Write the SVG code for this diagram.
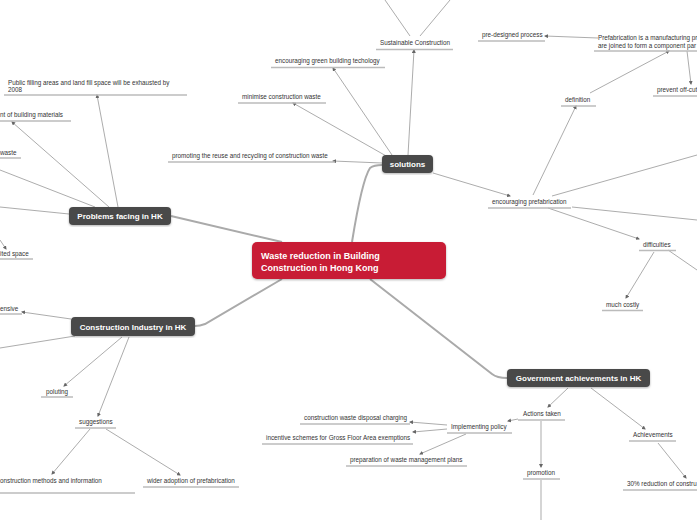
<svg xmlns="http://www.w3.org/2000/svg" width="697" height="520" viewBox="0 0 697 520">
<style>
text{font-family:"Liberation Sans",Arial,sans-serif}
.t{font-size:6.3px;fill:#333}
.u{stroke:#bbb;stroke-width:1.5}
.c{stroke:#888;stroke-width:0.7;fill:none}
.m{stroke:#aaa;stroke-width:2;fill:none}
.d{fill:#4a4a4a}
.dt{font-size:8px;font-weight:bold;fill:#fff}
</style>
<defs>
<marker id="a" markerWidth="4" markerHeight="4" refX="3" refY="2" orient="auto" markerUnits="userSpaceOnUse"><path d="M0,0L4,2L0,4z" fill="#666"/></marker>
<filter id="s"><feDropShadow dx="0" dy="1" stdDeviation="1" flood-opacity="0.3"/></filter>
</defs>
<rect width="697" height="520" fill="#fff"/>
<g id="connectors">
<path class="m" d="M352,242 Q362,180 370,168 Q374,165 382,165"/>
<path class="m" d="M282,242 L171,216"/>
<path class="m" d="M282,279 L205,324 Q200,326 195,326"/>
<path class="m" d="M370,279 L492,374 Q497,378 507,378"/>
<g marker-end="url(#a)">
<path class="c" d="M408,155 L414,50"/>
<path class="c" d="M410,36 L385,0" marker-end="none"/>
<path class="c" d="M420,36 L450,0" marker-end="none"/>
<path class="c" d="M392,155 L333,68"/>
<path class="c" d="M388,157 L293,103"/>
<path class="c" d="M382,163 L333,161"/>
<path class="c" d="M433,173 L510,196"/>
<path class="c" d="M533,195 L576,106"/>
<path class="c" d="M590,93 L669,51"/>
<path class="c" d="M598,38 L545,36"/>
<path class="c" d="M687,51 L691,84"/>
<path class="c" d="M552,196 L697,155" marker-end="none"/>
<path class="c" d="M572,207 L697,220" marker-end="none"/>
<path class="c" d="M548,208 L639,239"/>
<path class="c" d="M654,252 L626,298"/>
<path class="c" d="M668,250 L697,270" marker-end="none"/>
<path class="c" d="M118,207 L97,95"/>
<path class="c" d="M109,207 L12,122"/>
<path class="c" d="M95,207 L0,170" marker-end="none"/>
<path class="c" d="M69,214 L0,207" marker-end="none"/>
<path class="c" d="M0,240 L6,249"/>
<path class="c" d="M71,319 L22,312"/>
<path class="c" d="M75,336 L0,348" marker-end="none"/>
<path class="c" d="M122,337 L64,386"/>
<path class="c" d="M129,337 L98,416"/>
<path class="c" d="M90,429 L52,474"/>
<path class="c" d="M106,429 L180,475"/>
<path class="c" d="M568,388 L548,407"/>
<path class="c" d="M591,388 L645,429"/>
<path class="c" d="M658,443 L686,478"/>
<path class="c" d="M518,419 L508,421"/>
<path class="c" d="M447,425 L410,422"/>
<path class="c" d="M447,429 L413,432"/>
<path class="c" d="M466,434 L420,454"/>
<path class="c" d="M541,421 L541,467"/>
<path class="c" d="M541,480 L541,520" marker-end="none"/>
</g>
</g>
<g id="center"><rect x="252" y="242" width="194" height="37" rx="5" fill="#c81e36" filter="url(#s)"/>
<text x="261" y="259" style="font-size:9px;font-weight:bold;fill:#fff">Waste reduction in Building</text>
<text x="261" y="271" style="font-size:9px;font-weight:bold;fill:#fff">Construction in Hong Kong</text></g>
<g id="solutions"><rect class="d" x="382" y="155" width="51" height="18" rx="4" filter="url(#s)"/><text class="dt" x="407.5" y="167" text-anchor="middle">solutions</text></g>
<g id="problems"><rect class="d" x="69" y="207" width="102" height="18" rx="4" filter="url(#s)"/><text class="dt" x="120" y="219" text-anchor="middle">Problems facing in HK</text></g>
<g id="industry"><rect class="d" x="71" y="317" width="124" height="19" rx="4" filter="url(#s)"/><text class="dt" x="133" y="330" text-anchor="middle">Construction Industry in HK</text></g>
<g id="government"><rect class="d" x="507" y="369" width="143" height="18" rx="4" filter="url(#s)"/><text class="dt" x="578.5" y="381" text-anchor="middle">Government achievements in HK</text></g>
<g id="sustainable"><text class="t" x="380" y="45">Sustainable Construction</text><line class="u" x1="376" y1="49.5" x2="453" y2="49.5"/></g>
<g id="green"><text class="t" x="275" y="63">encouraging green building techology</text><line class="u" x1="271" y1="67.5" x2="385" y2="67.5"/></g>
<g id="minimise"><text class="t" x="242" y="99">minimise construction waste</text><line class="u" x1="238" y1="103" x2="326" y2="103"/></g>
<g id="reuse"><text class="t" x="172" y="158">promoting the reuse and recycling of construction waste</text><line class="u" x1="168" y1="162" x2="335" y2="162"/></g>
<g id="prefab"><text class="t" x="492" y="204">encouraging prefabrication</text><line class="u" x1="488" y1="208" x2="571" y2="208"/></g>
<g id="definition"><text class="t" x="565" y="102">definition</text><line class="u" x1="561" y1="106" x2="596" y2="106"/></g>
<g id="prefabdef"><text class="t" x="598" y="40">Prefabrication is a manufacturing pr</text><text class="t" x="598" y="47.5">are joined to form a component par</text><line class="u" x1="594" y1="51" x2="697" y2="51"/></g>
<g id="predesigned"><text class="t" x="482" y="37">pre-designed process</text><line class="u" x1="478" y1="41" x2="545" y2="41"/></g>
<g id="offcut"><text class="t" x="657" y="92">prevent off-cut</text><line class="u" x1="653" y1="96" x2="697" y2="96"/></g>
<g id="difficulties"><text class="t" x="643" y="247">difficulties</text><line class="u" x1="639" y1="250.5" x2="676" y2="250.5"/></g>
<g id="costly"><text class="t" x="606" y="307">much costly</text><line class="u" x1="602" y1="310.5" x2="643" y2="310.5"/></g>
<g id="filling"><text class="t" x="8" y="85">Public filling areas and land fill space will be exhausted by</text><text class="t" x="8" y="92">2008</text><line class="u" x1="4" y1="95" x2="187" y2="95"/></g>
<g id="materials"><text class="t" x="0" y="117">nt of building materials</text><line class="u" x1="0" y1="121" x2="71" y2="121"/></g>
<g id="waste"><text class="t" x="0" y="155">waste</text><line class="u" x1="0" y1="158" x2="21" y2="158"/></g>
<g id="space"><text class="t" x="0" y="256">ited space</text><line class="u" x1="0" y1="259" x2="33" y2="259"/></g>
<g id="expensive"><text class="t" x="0" y="311">ensive</text><line class="u" x1="0" y1="314" x2="22" y2="314"/></g>
<g id="poluting"><text class="t" x="46" y="394">poluting</text><line class="u" x1="41" y1="397" x2="73" y2="397"/></g>
<g id="suggestions"><text class="t" x="79" y="424">suggestions</text><line class="u" x1="75" y1="428" x2="116" y2="428"/></g>
<g id="methods"><text class="t" x="0" y="483">onstruction methods and information</text><line class="u" x1="0" y1="493" x2="135" y2="493"/></g>
<g id="wider"><text class="t" x="147" y="483">wider adoption of prefabrication</text><line class="u" x1="143" y1="487" x2="239" y2="487"/></g>
<g id="actions"><text class="t" x="523" y="416">Actions taken</text><line class="u" x1="518" y1="420" x2="565" y2="420"/></g>
<g id="achievements"><text class="t" x="633" y="437">Achievements</text><line class="u" x1="629" y1="441" x2="676" y2="441"/></g>
<g id="reduction"><text class="t" x="627" y="486">30% reduction of constru</text><line class="u" x1="623" y1="490" x2="697" y2="490"/></g>
<g id="policy"><text class="t" x="451" y="429">Implementing policy</text><line class="u" x1="447" y1="433" x2="512" y2="433"/></g>
<g id="charging"><text class="t" x="304" y="420">construction waste disposal charging</text><line class="u" x1="300" y1="424" x2="410" y2="424"/></g>
<g id="incentive"><text class="t" x="266" y="440">incentive schemes for Gross Floor Area exemptions</text><line class="u" x1="262" y1="444" x2="413" y2="444"/></g>
<g id="plans"><text class="t" x="350" y="462">preparation of waste management plans</text><line class="u" x1="346" y1="466" x2="467" y2="466"/></g>
<g id="promotion"><text class="t" x="527" y="475">promotion</text><line class="u" x1="523" y1="479" x2="560" y2="479"/></g>
</svg>
